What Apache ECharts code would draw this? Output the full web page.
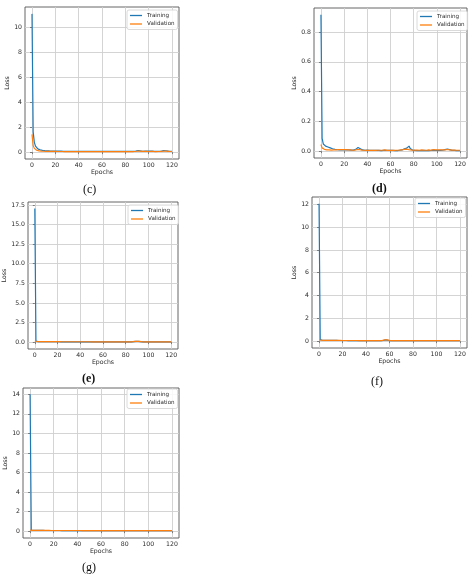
<!DOCTYPE html>
<html>
<head>
<meta charset="utf-8">
<script src="https://cdn.jsdelivr.net/npm/echarts@6/dist/echarts.min.js"></script>
<style>
  html, body { margin: 0; padding: 0; background: #fff; }
  #chart { width: 474px; height: 579px; }
</style>
</head>
<body>
<div id="chart"></div>
<script>
// loss curves, one value per epoch (0..120)
var cTrain = [11.05, 1.62, 0.78, 0.48, 0.34, 0.26, 0.21, 0.18, 0.16, 0.14, 0.13, 0.12, 0.11, 0.105, 0.10,
  0.095, 0.09, 0.088, 0.085, 0.082, 0.08, 0.078, 0.077, 0.075, 0.074, 0.073, 0.072, 0.07, 0.07, 0.069,
  0.068, 0.068, 0.067, 0.066, 0.066, 0.065, 0.066, 0.064, 0.064, 0.063, 0.065, 0.063, 0.062, 0.062, 0.063,
  0.061, 0.062, 0.06, 0.061, 0.06, 0.062, 0.06, 0.059, 0.06, 0.061, 0.066, 0.063, 0.06, 0.059, 0.058,
  0.062, 0.06, 0.058, 0.06, 0.057, 0.058, 0.061, 0.057, 0.056, 0.058, 0.06, 0.057, 0.056, 0.058, 0.055,
  0.057, 0.056, 0.06, 0.055, 0.056, 0.058, 0.054, 0.057, 0.055, 0.06, 0.058, 0.07, 0.065, 0.075, 0.09,
  0.11, 0.13, 0.12, 0.095, 0.08, 0.07, 0.075, 0.09, 0.085, 0.072, 0.068, 0.08, 0.095, 0.088, 0.075,
  0.07, 0.065, 0.07, 0.072, 0.068, 0.075, 0.085, 0.1, 0.12, 0.13, 0.11, 0.09, 0.08, 0.075, 0.07,
  0.068];
var cVal = [1.42, 0.52, 0.3, 0.2, 0.15, 0.12, 0.1, 0.09, 0.08, 0.075, 0.07, 0.066, 0.063, 0.06, 0.058,
  0.056, 0.055, 0.054, 0.053, 0.052, 0.052, 0.051, 0.05, 0.05, 0.049, 0.049, 0.048, 0.048, 0.047, 0.047,
  0.047, 0.046, 0.046, 0.046, 0.045, 0.045, 0.045, 0.044, 0.045, 0.044, 0.044, 0.043, 0.044, 0.043, 0.043,
  0.043, 0.042, 0.043, 0.042, 0.042, 0.043, 0.042, 0.041, 0.042, 0.041, 0.045, 0.043, 0.041, 0.041, 0.04,
  0.042, 0.041, 0.04, 0.041, 0.04, 0.04, 0.042, 0.04, 0.039, 0.04, 0.041, 0.039, 0.039, 0.04, 0.039,
  0.039, 0.038, 0.04, 0.038, 0.038, 0.039, 0.038, 0.038, 0.037, 0.039, 0.038, 0.045, 0.042, 0.048, 0.055,
  0.07, 0.085, 0.08, 0.065, 0.055, 0.05, 0.052, 0.06, 0.058, 0.05, 0.048, 0.055, 0.065, 0.06, 0.052,
  0.049, 0.046, 0.05, 0.051, 0.048, 0.052, 0.058, 0.07, 0.085, 0.09, 0.075, 0.062, 0.055, 0.052, 0.05,
  0.048];

var dTrain = [0.915, 0.085, 0.048, 0.038, 0.034, 0.031, 0.028, 0.025, 0.022, 0.019, 0.016, 0.014, 0.012, 0.011, 0.01,
  0.009, 0.009, 0.008, 0.009, 0.008, 0.01, 0.009, 0.008, 0.007, 0.008, 0.007, 0.007, 0.006, 0.007, 0.008,
  0.012, 0.018, 0.024, 0.022, 0.016, 0.01, 0.008, 0.007, 0.006, 0.006, 0.007, 0.006, 0.005, 0.006, 0.005,
  0.006, 0.005, 0.005, 0.006, 0.005, 0.005, 0.006, 0.004, 0.005, 0.005, 0.006, 0.005, 0.004, 0.005, 0.004,
  0.005, 0.004, 0.005, 0.004, 0.004, 0.005, 0.004, 0.005, 0.006, 0.006, 0.008, 0.012, 0.016, 0.022, 0.02,
  0.028, 0.034, 0.018, 0.01, 0.007, 0.006, 0.005, 0.005, 0.004, 0.005, 0.004, 0.005, 0.004, 0.004, 0.005,
  0.004, 0.004, 0.005, 0.004, 0.004, 0.005, 0.006, 0.007, 0.006, 0.005, 0.006, 0.005, 0.006, 0.005, 0.005,
  0.006, 0.008, 0.01, 0.012, 0.013, 0.012, 0.01, 0.007, 0.005, 0.004, 0.005, 0.004, 0.004, 0.005, 0.004,
  0.004];
var dVal = [0.045, 0.022, 0.016, 0.012, 0.01, 0.009, 0.008, 0.008, 0.007, 0.007, 0.008, 0.009, 0.01, 0.009, 0.01,
  0.011, 0.009, 0.01, 0.012, 0.011, 0.012, 0.01, 0.011, 0.009, 0.01, 0.008, 0.007, 0.006, 0.006, 0.007,
  0.008, 0.01, 0.012, 0.011, 0.009, 0.007, 0.006, 0.006, 0.005, 0.005, 0.006, 0.005, 0.005, 0.006, 0.005,
  0.005, 0.006, 0.005, 0.005, 0.006, 0.007, 0.006, 0.005, 0.006, 0.007, 0.008, 0.006, 0.005, 0.006, 0.005,
  0.006, 0.005, 0.006, 0.005, 0.005, 0.006, 0.005, 0.006, 0.007, 0.008, 0.009, 0.01, 0.012, 0.014, 0.013,
  0.012, 0.01, 0.008, 0.007, 0.006, 0.006, 0.007, 0.006, 0.007, 0.008, 0.006, 0.007, 0.008, 0.007, 0.006,
  0.007, 0.006, 0.007, 0.008, 0.007, 0.006, 0.009, 0.01, 0.009, 0.008, 0.009, 0.008, 0.009, 0.008, 0.007,
  0.008, 0.009, 0.009, 0.01, 0.011, 0.01, 0.009, 0.008, 0.007, 0.006, 0.007, 0.006, 0.006, 0.007, 0.006,
  0.006];

var eTrain = [17.05, 0.12, 0.08, 0.07, 0.065, 0.06, 0.058, 0.055, 0.053, 0.052, 0.05, 0.049, 0.048, 0.047, 0.046,
  0.046, 0.045, 0.045, 0.044, 0.044, 0.043, 0.043, 0.043, 0.042, 0.042, 0.042, 0.041, 0.041, 0.041, 0.04,
  0.04, 0.04, 0.041, 0.04, 0.039, 0.04, 0.039, 0.039, 0.04, 0.039, 0.038, 0.039, 0.038, 0.038, 0.039,
  0.038, 0.038, 0.037, 0.038, 0.037, 0.038, 0.037, 0.037, 0.036, 0.037, 0.037, 0.036, 0.037, 0.036, 0.036,
  0.036, 0.035, 0.036, 0.035, 0.036, 0.035, 0.035, 0.034, 0.035, 0.035, 0.034, 0.035, 0.034, 0.034, 0.035,
  0.034, 0.034, 0.033, 0.034, 0.033, 0.034, 0.033, 0.034, 0.035, 0.036, 0.04, 0.05, 0.065, 0.08, 0.09,
  0.1, 0.095, 0.08, 0.06, 0.045, 0.038, 0.035, 0.034, 0.033, 0.033, 0.032, 0.033, 0.032, 0.032, 0.033,
  0.032, 0.032, 0.031, 0.032, 0.031, 0.031, 0.032, 0.031, 0.031, 0.03, 0.031, 0.03, 0.031, 0.03, 0.03,
  0.03];
var eVal = [0.11, 0.085, 0.075, 0.07, 0.066, 0.063, 0.06, 0.058, 0.057, 0.056, 0.055, 0.054, 0.053, 0.053, 0.052,
  0.052, 0.051, 0.051, 0.05, 0.05, 0.05, 0.049, 0.049, 0.049, 0.048, 0.048, 0.048, 0.047, 0.047, 0.047,
  0.047, 0.046, 0.046, 0.046, 0.046, 0.045, 0.045, 0.045, 0.045, 0.044, 0.044, 0.044, 0.044, 0.044, 0.043,
  0.043, 0.043, 0.043, 0.043, 0.042, 0.042, 0.042, 0.042, 0.042, 0.042, 0.041, 0.041, 0.041, 0.041, 0.041,
  0.041, 0.04, 0.04, 0.04, 0.04, 0.04, 0.04, 0.04, 0.039, 0.039, 0.039, 0.039, 0.039, 0.039, 0.039,
  0.039, 0.038, 0.038, 0.038, 0.038, 0.038, 0.038, 0.038, 0.039, 0.04, 0.045, 0.055, 0.07, 0.085, 0.095,
  0.105, 0.1, 0.085, 0.065, 0.05, 0.042, 0.04, 0.039, 0.038, 0.038, 0.037, 0.038, 0.037, 0.037, 0.037,
  0.037, 0.036, 0.037, 0.036, 0.036, 0.036, 0.036, 0.036, 0.035, 0.036, 0.035, 0.035, 0.035, 0.035, 0.035,
  0.035];

var fTrain = [12.05, 0.13, 0.09, 0.08, 0.075, 0.072, 0.07, 0.068, 0.066, 0.065, 0.064, 0.063, 0.062, 0.061, 0.06,
  0.06, 0.059, 0.059, 0.058, 0.058, 0.057, 0.057, 0.056, 0.056, 0.055, 0.055, 0.055, 0.054, 0.054, 0.054,
  0.053, 0.053, 0.053, 0.052, 0.052, 0.052, 0.052, 0.051, 0.051, 0.051, 0.051, 0.05, 0.05, 0.05, 0.05,
  0.05, 0.049, 0.049, 0.049, 0.049, 0.049, 0.048, 0.049, 0.05, 0.055, 0.07, 0.09, 0.11, 0.095, 0.07,
  0.055, 0.05, 0.048, 0.047, 0.047, 0.047, 0.046, 0.046, 0.046, 0.046, 0.045, 0.045, 0.045, 0.045, 0.045,
  0.044, 0.044, 0.044, 0.044, 0.044, 0.043, 0.043, 0.043, 0.043, 0.043, 0.043, 0.042, 0.042, 0.042, 0.042,
  0.042, 0.042, 0.041, 0.041, 0.041, 0.041, 0.041, 0.041, 0.04, 0.04, 0.04, 0.04, 0.04, 0.04, 0.04,
  0.039, 0.039, 0.039, 0.039, 0.039, 0.039, 0.039, 0.038, 0.038, 0.038, 0.038, 0.038, 0.038, 0.038, 0.038,
  0.037];
var fVal = [0.1, 0.085, 0.08, 0.076, 0.073, 0.07, 0.068, 0.067, 0.066, 0.065, 0.064, 0.063, 0.063, 0.062, 0.062,
  0.061, 0.061, 0.06, 0.06, 0.06, 0.059, 0.059, 0.059, 0.058, 0.058, 0.058, 0.057, 0.057, 0.057, 0.057,
  0.056, 0.056, 0.056, 0.056, 0.055, 0.055, 0.055, 0.055, 0.055, 0.054, 0.054, 0.054, 0.054, 0.054, 0.053,
  0.053, 0.053, 0.053, 0.053, 0.053, 0.052, 0.052, 0.053, 0.055, 0.062, 0.08, 0.105, 0.125, 0.11, 0.08,
  0.062, 0.055, 0.053, 0.052, 0.052, 0.051, 0.051, 0.051, 0.051, 0.05, 0.05, 0.05, 0.05, 0.05, 0.05,
  0.049, 0.049, 0.049, 0.049, 0.049, 0.049, 0.048, 0.048, 0.048, 0.048, 0.048, 0.048, 0.048, 0.047, 0.047,
  0.047, 0.047, 0.047, 0.047, 0.047, 0.046, 0.046, 0.046, 0.046, 0.046, 0.046, 0.046, 0.046, 0.045, 0.045,
  0.045, 0.045, 0.045, 0.045, 0.045, 0.045, 0.044, 0.044, 0.044, 0.044, 0.044, 0.044, 0.044, 0.044, 0.044,
  0.043];

var gTrain = [14.0, 0.12, 0.095, 0.088, 0.083, 0.08, 0.078, 0.076, 0.075, 0.074, 0.073, 0.072, 0.071, 0.07, 0.07,
  0.069, 0.069, 0.068, 0.068, 0.067, 0.067, 0.066, 0.066, 0.066, 0.065, 0.065, 0.065, 0.064, 0.064, 0.064,
  0.063, 0.063, 0.063, 0.063, 0.062, 0.062, 0.062, 0.062, 0.061, 0.061, 0.061, 0.061, 0.06, 0.06, 0.06,
  0.06, 0.06, 0.059, 0.059, 0.059, 0.059, 0.059, 0.058, 0.058, 0.058, 0.058, 0.058, 0.057, 0.057, 0.057,
  0.057, 0.057, 0.057, 0.056, 0.056, 0.056, 0.056, 0.056, 0.056, 0.055, 0.055, 0.055, 0.055, 0.055, 0.055,
  0.054, 0.054, 0.054, 0.054, 0.054, 0.054, 0.054, 0.053, 0.053, 0.053, 0.053, 0.053, 0.053, 0.053, 0.052,
  0.052, 0.052, 0.052, 0.052, 0.052, 0.052, 0.052, 0.051, 0.051, 0.051, 0.051, 0.051, 0.051, 0.051, 0.051,
  0.05, 0.05, 0.05, 0.05, 0.05, 0.05, 0.05, 0.05, 0.049, 0.049, 0.049, 0.049, 0.049, 0.049, 0.049,
  0.049];
var gVal = [0.105, 0.09, 0.085, 0.082, 0.08, 0.078, 0.077, 0.076, 0.075, 0.074, 0.074, 0.073, 0.073, 0.072, 0.072,
  0.071, 0.071, 0.071, 0.07, 0.07, 0.07, 0.069, 0.069, 0.069, 0.069, 0.068, 0.068, 0.068, 0.068, 0.067,
  0.067, 0.067, 0.067, 0.066, 0.066, 0.066, 0.066, 0.066, 0.065, 0.065, 0.065, 0.065, 0.065, 0.064, 0.064,
  0.064, 0.064, 0.064, 0.064, 0.063, 0.063, 0.063, 0.063, 0.063, 0.063, 0.062, 0.062, 0.062, 0.062, 0.062,
  0.062, 0.062, 0.061, 0.061, 0.061, 0.061, 0.061, 0.061, 0.061, 0.06, 0.06, 0.06, 0.06, 0.06, 0.06,
  0.06, 0.06, 0.059, 0.059, 0.059, 0.059, 0.059, 0.059, 0.059, 0.059, 0.058, 0.058, 0.058, 0.058, 0.058,
  0.058, 0.058, 0.058, 0.058, 0.057, 0.057, 0.057, 0.057, 0.057, 0.057, 0.057, 0.057, 0.057, 0.056, 0.056,
  0.056, 0.056, 0.056, 0.056, 0.056, 0.056, 0.056, 0.056, 0.056, 0.055, 0.055, 0.055, 0.055, 0.055, 0.055,
  0.055];

// tick labels
var xTicks = [0, 20, 40, 60, 80, 100, 120];
var cYTicks = [0, 2, 4, 6, 8, 10];
var dYTicks = [0, 0.2, 0.4, 0.6, 0.8];
var eYTicks = [0, 2.5, 5, 7.5, 10, 12.5, 15, 17.5];
var fYTicks = [0, 2, 4, 6, 8, 10, 12];
var gYTicks = [0, 2, 4, 6, 8, 10, 12, 14];
var seriesNames = ["Training", "Validation"];

var BLUE = "#1f77b4";
var ORANGE = "#ff7f0e";
var FONT = "DejaVu Sans";
var TXT = "#2b2b2b";
var TICK_SIZE = 6.2;

var panels = [
  { train: cTrain, val: cVal, yTicks: cYTicks, dec: 0, yMin: -0.55, yMax: 11.6,
    grid: { left: 25, top: 7, width: 154, height: 152 }, legend: { left: 127, top: 10 },
    yGap: 11, xGap: 9, tag: { x: 92, y: 192, text: "(c)", bold: false } },
  { train: dTrain, val: dVal, yTicks: dYTicks, dec: 1, yMin: -0.046, yMax: 0.961,
    grid: { left: 314, top: 8, width: 153, height: 150 }, legend: { left: 417, top: 11 },
    yGap: 14, xGap: 9.5, tag: { x: 381, y: 191, text: "(d)", bold: true } },
  { train: eTrain, val: eVal, yTicks: eYTicks, dec: 1, yMin: -0.88, yMax: 17.88,
    grid: { left: 28, top: 202, width: 150, height: 147 }, legend: { left: 128, top: 205 },
    yGap: 17, xGap: 9, tag: { x: 91, y: 381, text: "(e)", bold: true } },
  { train: fTrain, val: fVal, yTicks: fYTicks, dec: 0, yMin: -0.6, yMax: 12.64,
    grid: { left: 312, top: 197, width: 155, height: 151 }, legend: { left: 415, top: 198 },
    yGap: 12, xGap: 9.5, tag: { x: 380, y: 384, text: "(f)", bold: false } },
  { train: gTrain, val: gVal, yTicks: gYTicks, dec: 0, yMin: -0.7, yMax: 14.65,
    grid: { left: 23, top: 388, width: 156, height: 150 }, legend: { left: 127, top: 389 },
    yGap: 12, xGap: 9, tag: { x: 91, y: 570, text: "(g)", bold: false } }
];

function pairs(values) {
  return values.map(function (v, epoch) { return [epoch, v]; });
}

var grids = [], xAxes = [], yAxes = [], series = [], legends = [], graphics = [];

panels.forEach(function (p, i) {
  grids.push({
    left: p.grid.left, top: p.grid.top, width: p.grid.width, height: p.grid.height,
    show: true, borderColor: "#555", borderWidth: 0.9, backgroundColor: "#fff",
    containLabel: false
  });
  xAxes.push({
    type: "value", gridIndex: i, min: -6, max: 126,
    name: "Epochs", nameLocation: "middle", nameGap: p.xGap,
    nameTextStyle: { fontFamily: FONT, fontSize: TICK_SIZE, color: TXT },
    axisLine: { show: false },
    axisTick: { show: true, length: 2, customValues: xTicks, lineStyle: { color: "#555", width: 0.7 } },
    axisLabel: { customValues: xTicks, margin: 3, fontFamily: FONT, fontSize: TICK_SIZE, color: TXT },
    splitLine: { show: true, lineStyle: { color: "#cfcfcf", width: 0.9 } }
  });
  yAxes.push({
    type: "value", gridIndex: i, min: p.yMin, max: p.yMax,
    name: "Loss", nameLocation: "middle", nameGap: p.yGap,
    nameTextStyle: { fontFamily: FONT, fontSize: TICK_SIZE, color: TXT },
    axisLine: { show: false },
    axisTick: { show: true, length: 2, customValues: p.yTicks, lineStyle: { color: "#555", width: 0.7 } },
    axisLabel: {
      customValues: p.yTicks, margin: 3, fontFamily: FONT, fontSize: TICK_SIZE, color: TXT,
      formatter: (function (dec) { return function (v) { return v.toFixed(dec); }; })(p.dec)
    },
    splitLine: { show: true, lineStyle: { color: "#cfcfcf", width: 0.9 } }
  });
  series.push({
    name: seriesNames[0], type: "line", xAxisIndex: i, yAxisIndex: i,
    data: pairs(p.train), showSymbol: false, symbol: "none",
    lineStyle: { color: BLUE, width: 1.2 }, itemStyle: { color: BLUE }
  });
  series.push({
    name: seriesNames[1], type: "line", xAxisIndex: i, yAxisIndex: i,
    data: pairs(p.val), showSymbol: false, symbol: "none",
    lineStyle: { color: ORANGE, width: 1.2 }, itemStyle: { color: ORANGE }
  });
  legends.push({
    data: seriesNames, left: p.legend.left, top: p.legend.top, orient: "vertical",
    icon: "rect", itemWidth: 12, itemHeight: 1.3, itemGap: 2.5, itemTextGap: 5,
    textStyle: { fontFamily: FONT, fontSize: 5.6, color: TXT },
    backgroundColor: "rgba(255,255,255,0.85)", borderColor: "#d0d0d0", borderWidth: 0.8,
    borderRadius: 2, padding: [2.5, 3, 2.5, 3]
  });
  graphics.push({
    type: "text", left: p.tag.x - 9, top: p.tag.y - 8,
    style: {
      text: p.tag.text, font: (p.tag.bold ? "bold " : "") + "12px 'Liberation Serif'",
      fill: "#111"
    }
  });
});

var chart = echarts.init(document.getElementById("chart"), null, { renderer: "canvas" });
chart.setOption({
  animation: false,
  backgroundColor: "#fff",
  grid: grids,
  xAxis: xAxes,
  yAxis: yAxes,
  legend: legends,
  series: series,
  graphic: graphics
});
</script>
</body>
</html>
